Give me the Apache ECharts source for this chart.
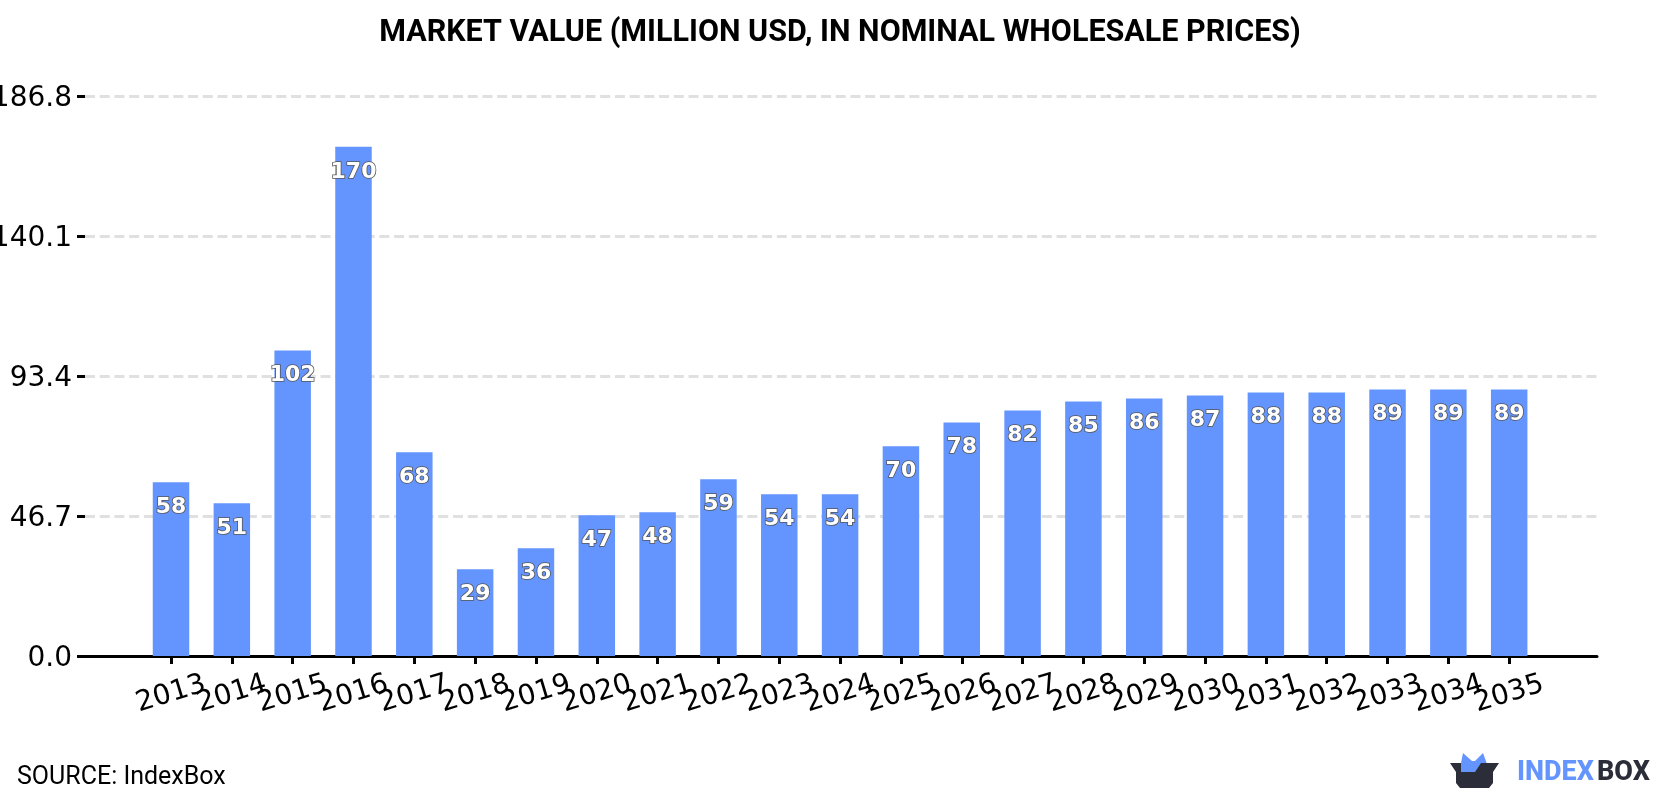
<!DOCTYPE html>
<html>
<head>
<meta charset="utf-8">
<style>html,body{margin:0;padding:0;background:#fff}#chart{width:1680px;height:800px}</style>
<script src="https://cdn.jsdelivr.net/npm/echarts@6/dist/echarts.min.js"></script>
</head>
<body>
<div id="chart"></div>
<script>
const titleText = 'MARKET VALUE (MILLION USD, IN NOMINAL WHOLESALE PRICES)';
const sourceText = 'SOURCE: IndexBox';
const years = ['2013','2014','2015','2016','2017','2018','2019','2020','2021','2022','2023','2024','2025','2026','2027','2028','2029','2030','2031','2032','2033','2034','2035'];
const marketValue = [58,51,102,170,68,29,36,47,48,59,54,54,70,78,82,85,86,87,88,88,89,89,89];
const yMax = 186.8;
const yStep = 46.7;

const BLUE = '#6495ff';
const DARK = '#2b2d38';
const TOP = 96.5, BOTTOM = 144;

const chart = echarts.init(document.getElementById('chart'), null, {renderer: 'canvas'});
chart.setOption({
  animation: false,
  backgroundColor: '#fff',
  title: {
    text: titleText, left: 'center', top: 13,
    textStyle: {fontFamily: 'Roboto', fontWeight: 'bold', fontSize: 30.5, color: '#000'}
  },
  // Frame grid carries the value scale and baseline; the inner grid carries the bars.
  grid: [
    {left: 85, right: 83, top: TOP, bottom: BOTTOM, outerBoundsMode: 'none'},
    {left: 140.6, right: 140.4, top: TOP, bottom: BOTTOM, outerBoundsMode: 'none'}
  ],
  xAxis: [
    {
      gridIndex: 0, type: 'category', data: [''],
      axisLine: {show: true, lineStyle: {color: '#000', width: 3}},
      axisTick: {show: false}, axisLabel: {show: false}, splitLine: {show: false}
    },
    {
      gridIndex: 1, type: 'category', data: years,
      axisLine: {show: false},
      axisTick: {show: true, alignWithLabel: true, length: 8, lineStyle: {color: '#000', width: 3}},
      axisLabel: {
        interval: 0, rotate: 17, margin: 38, align: 'center', verticalAlign: 'middle',
        fontFamily: 'DejaVu Sans', fontSize: 28, color: '#000'
      }
    }
  ],
  yAxis: [
    {
      gridIndex: 0, type: 'value', min: 0, max: yMax, interval: yStep,
      axisLine: {show: false},
      axisTick: {show: true, length: 8, lineStyle: {color: '#000', width: 3}},
      axisLabel: {
        margin: 13, verticalAlign: 'top', lineHeight: 5,
        fontFamily: 'DejaVu Sans', fontSize: 28, color: '#000',
        formatter: v => v.toFixed(1)
      },
      splitLine: {show: true, lineStyle: {color: '#e0e0e0', width: 3, type: [10, 4.72]}}
    },
    {
      gridIndex: 1, type: 'value', min: 0, max: yMax, interval: yStep,
      axisLine: {show: false}, axisTick: {show: false}, axisLabel: {show: false}, splitLine: {show: false}
    }
  ],
  series: [{
    type: 'bar', xAxisIndex: 1, yAxisIndex: 1, data: marketValue, barWidth: '60%',
    itemStyle: {color: BLUE},
    label: {
      show: true, position: 'insideTop', distance: 14,
      fontFamily: 'DejaVu Sans', fontWeight: 'bold', fontSize: 22,
      color: '#fff', textBorderColor: '#555', textBorderWidth: 1.6
    }
  }],
  graphic: [
    {type: 'text', left: 17, top: 765, style: {text: sourceText, fontFamily: 'Roboto', fontSize: 25, fill: '#000'}},
    // IndexBox mark: blue flaps rising out of a dark open box
    {type: 'polygon', shape: {points: [[1461,773],[1461,763],[1463,753],[1472,761],[1475,761],[1483,753],[1487,764],[1480,772],[1476,773]]}, style: {fill: BLUE}, z: 5},
    {type: 'polygon', shape: {points: [[1450,763],[1461,763],[1461,772],[1475,772],[1481,763],[1499,763],[1493,772],[1493,783],[1489,788],[1460,788],[1456,783],[1456,772]]}, style: {fill: DARK}, z: 6},
    {type: 'text', left: 1517, top: 760, style: {text: 'INDEX', fontFamily: 'Roboto', fontWeight: 800, fontSize: 27, fill: BLUE}},
    {type: 'text', left: 1597, top: 760, style: {text: 'BOX', fontFamily: 'Roboto', fontWeight: 800, fontSize: 27, fill: DARK}}
  ]
});
</script>
</body>
</html>
